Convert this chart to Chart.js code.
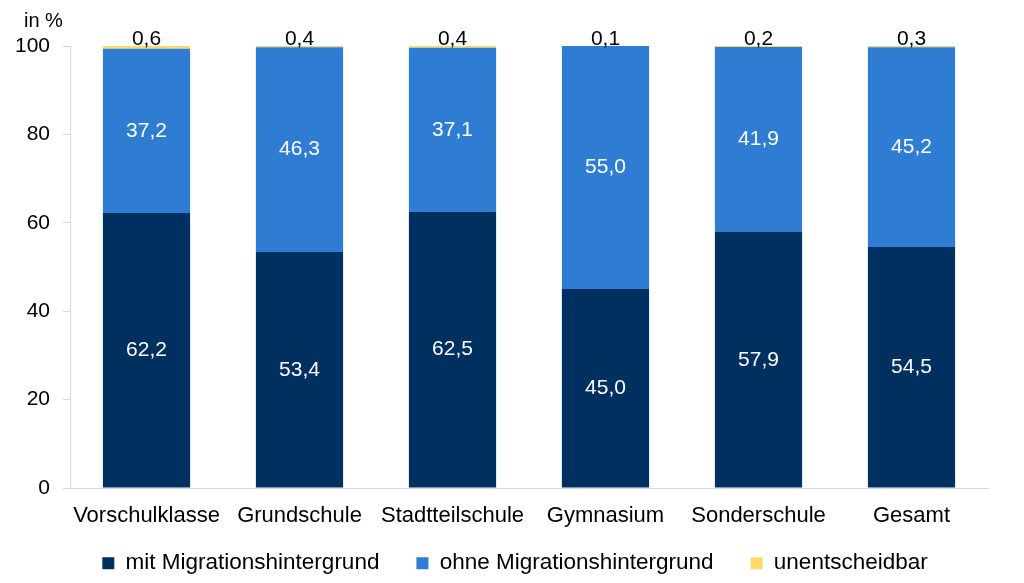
<!DOCTYPE html>
<html>
<head>
<meta charset="utf-8">
<script src="https://cdn.jsdelivr.net/npm/chart.js@4"></script>
<style>
html,body{margin:0;padding:0;background:#fff;}
#wrap{width:1024px;height:583px;position:relative;}
</style>
</head>
<body>
<div id="wrap"><canvas id="c" width="1024" height="583"></canvas></div>
<script>
const categories = ["Vorschulklasse", "Grundschule", "Stadtteilschule", "Gymnasium", "Sonderschule", "Gesamt"];
const mitMigration = [62.2, 53.4, 62.5, 45.0, 57.9, 54.5];
const ohneMigration = [37.2, 46.3, 37.1, 55.0, 41.9, 45.2];
const unentscheidbar = [0.6, 0.4, 0.4, 0.1, 0.2, 0.3];
const seriesNames = ["mit Migrationshintergrund", "ohne Migrationshintergrund", "unentscheidbar"];
const yTicks = [0, 20, 40, 60, 80, 100];
const unitLabel = "in %";

const FONT = "'Liberation Sans', Arial, sans-serif";
const fmt = v => v.toFixed(1).replace('.', ',');

const labelPlugin = {
  id: 'labels',
  afterLayout(chart) {
    // nudge the legend box: move it up and slightly right
    const lg = chart.legend;
    if (lg) {
      lg.top -= 16;
      lg.left += 21;
      lg.right += 21;
    }
  },
  afterDatasetsDraw(chart) {
    const ctx = chart.ctx;
    ctx.save();
    ctx.font = "21px " + FONT;
    ctx.textAlign = 'center';
    chart.data.datasets.forEach((ds, di) => {
      const meta = chart.getDatasetMeta(di);
      meta.data.forEach((el, i) => {
        const v = ds.data[i];
        if (di < 2) {
          ctx.fillStyle = '#ffffff';
          ctx.textBaseline = 'middle';
          ctx.fillText(fmt(v), el.x, (el.y + el.base) / 2);
        } else {
          ctx.fillStyle = '#000000';
          ctx.textBaseline = 'alphabetic';
          ctx.fillText(fmt(v), el.x, el.y - 1);
        }
      });
    });
    ctx.fillStyle = '#000000';
    ctx.font = "20px " + FONT;
    ctx.textAlign = 'left';
    ctx.textBaseline = 'alphabetic';
    ctx.fillText(unitLabel, 24, 27);
    ctx.restore();
  }
};

new Chart(document.getElementById('c'), {
  type: 'bar',
  data: {
    labels: categories,
    datasets: [
      { label: seriesNames[0], data: mitMigration, backgroundColor: '#003060' },
      { label: seriesNames[1], data: ohneMigration, backgroundColor: '#2e7dd2' },
      { label: seriesNames[2], data: unentscheidbar, backgroundColor: '#ffd966' }
    ]
  },
  options: {
    responsive: false,
    animation: false,
    devicePixelRatio: 1,
    layout: { padding: { top: 46, right: 36, bottom: 0, left: 0 } },
    datasets: { bar: { categoryPercentage: 1.0, barPercentage: 0.57 } },
    scales: {
      x: {
        stacked: true,
        grid: { display: false },
        border: { display: true, color: '#d9d9d9', width: 1 },
        ticks: { color: '#000', font: { family: FONT, size: 22 }, padding: 7, maxRotation: 0 },
        afterFit(s) { s.height = 43; }
      },
      y: {
        stacked: true,
        min: 0, max: 100,
        afterBuildTicks(s) { s.ticks = yTicks.map(v => ({ value: v })); },
        grid: { display: true, drawOnChartArea: false, drawTicks: true, tickLength: 7, color: '#d9d9d9' },
        border: { display: true, color: '#d9d9d9', width: 1 },
        ticks: { color: '#000', font: { family: FONT, size: 21 }, padding: 13 },
        afterFit(s) { s.width = 70; }
      }
    },
    plugins: {
      legend: {
        position: 'bottom',
        maxHeight: 52,
        labels: {
          color: '#000',
          font: { family: FONT, size: 22.5, lineHeight: 1 },
          boxWidth: 12, boxHeight: 12,
          padding: 37
        }
      },
      tooltip: { enabled: false }
    }
  },
  plugins: [labelPlugin]
});
</script>
</body>
</html>
